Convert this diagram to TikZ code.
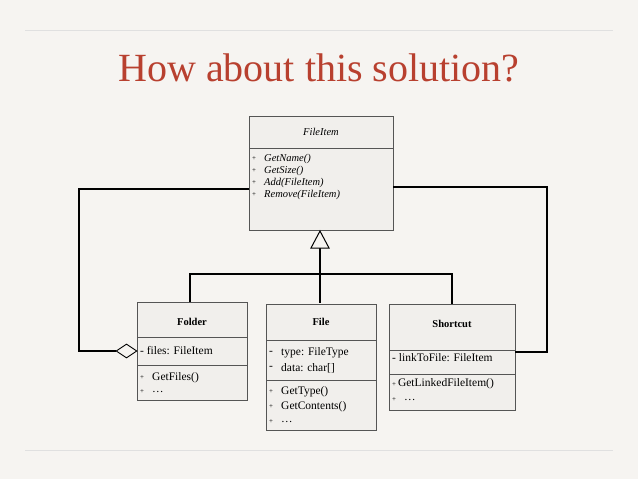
\documentclass[tikz,border=0pt]{standalone}
\usepackage{fontspec}
\setmainfont{Liberation Serif}
\usetikzlibrary{shapes.geometric}
\definecolor{bg}{HTML}{F6F4F1}
\definecolor{titlered}{HTML}{B8402F}
\definecolor{boxfill}{HTML}{F1EFEC}
\definecolor{edge}{HTML}{555555}
\tikzset{
  cls/.style={draw=edge, line width=0.9pt, fill=boxfill},
  div/.style={draw=edge, line width=0.9pt},
  con/.style={draw=black, line width=1.2pt},
  txt/.style={anchor=west, inner sep=0pt, font=\fontsize{11.5}{13}\selectfont},
  hdr/.style={inner sep=0pt, font=\fontsize{10.5}{12}\selectfont\bfseries},
}
\newcommand{\pl}{{\fontsize{7}{8}\selectfont+}}
\begin{document}
\begin{tikzpicture}[x=1pt,y=-1pt]
\fill[bg] (0,0) rectangle (638,479);
\useasboundingbox (0,0) rectangle (638,479);
\draw[black!12] (25,30) -- (613,30);
\draw[black!12] (25,450) -- (613,450);
\node[text=titlered, font=\fontsize{40}{46}\selectfont] (title) at (319,68) {How about this solution?};
% FileItem
\draw[cls] (249,116) rectangle (393,230);
\draw[div] (249,148) -- (393,148);
\node[hdr, font=\fontsize{10.5}{12}\selectfont\itshape] (fi) at (321,132) {FileItem};
\coordinate (fiL) at (249,189);
\coordinate (fiR) at (393,187);
\foreach \t/\y in {GetName()/159, GetSize()/171, Add(FileItem)/183, Remove(FileItem)/195}{
  \node[txt] at (252,\y) {\pl};
  \node[txt, font=\fontsize{10.5}{12}\selectfont\itshape] at (264,\y) {\t};
}
% Folder
\draw[cls] (137,302) rectangle (247,400);
\draw[div] (137,337) -- (247,337);
\draw[div] (137,365) -- (247,365);
\node[hdr] (folder) at (192,322) {Folder};
\node[txt] at (140,351) {- files: FileItem};
\node[txt] at (140,378) {\pl};\node[txt] at (152,378) {GetFiles()};
\node[txt] at (140,392) {\pl};\node[txt] at (152,392) {\ldots};
% File
\draw[cls] (266,304) rectangle (376,430);
\draw[div] (266,340) -- (376,340);
\draw[div] (266,380) -- (376,380);
\node[hdr] (file) at (321,322) {File};
\node[txt] at (269,353) {-};\node[txt] at (281,353) {type: FileType};
\node[txt] at (269,368) {-};\node[txt] at (281,368) {data: char[]};
\node[txt] at (269,392) {\pl};\node[txt] at (281,392) {GetType()};
\node[txt] at (269,407) {\pl};\node[txt] at (281,407) {GetContents()};
\node[txt] at (269,422) {\pl};\node[txt] at (281,422) {\ldots};
% Shortcut
\draw[cls] (389,304) rectangle (515,410);
\draw[div] (389,350) -- (515,350);
\draw[div] (389,374) -- (515,374);
\node[hdr] (shortcut) at (452,324) {Shortcut};
\node[txt] at (392,358) {- linkToFile: FileItem};
\node[txt] at (392,384) {\pl\,GetLinkedFileItem()};
\node[txt] at (392,400) {\pl};\node[txt] at (404,400) {\ldots};
% generalization
\coordinate (junc) at (320,274);
\draw[con] (190,302) |- (junc) -| (452,304);
\draw[con] (junc) -- (320,303);
\draw[con] (junc) -- (320,248);
\draw[line width=1pt, fill=bg] (320,231) -- (329,248) -- (311,248) -- cycle;
% aggregation
\node[draw=black, line width=0.9pt, fill=bg, diamond, minimum width=21pt, minimum height=14pt, inner sep=0pt] (dia) at (126.5,351) {};
\draw[con] (fiL) -- (79,189) |- (dia.west);
\draw[con] (fiR) -- (547,187) |- (515,352);
\end{tikzpicture}
\end{document}
